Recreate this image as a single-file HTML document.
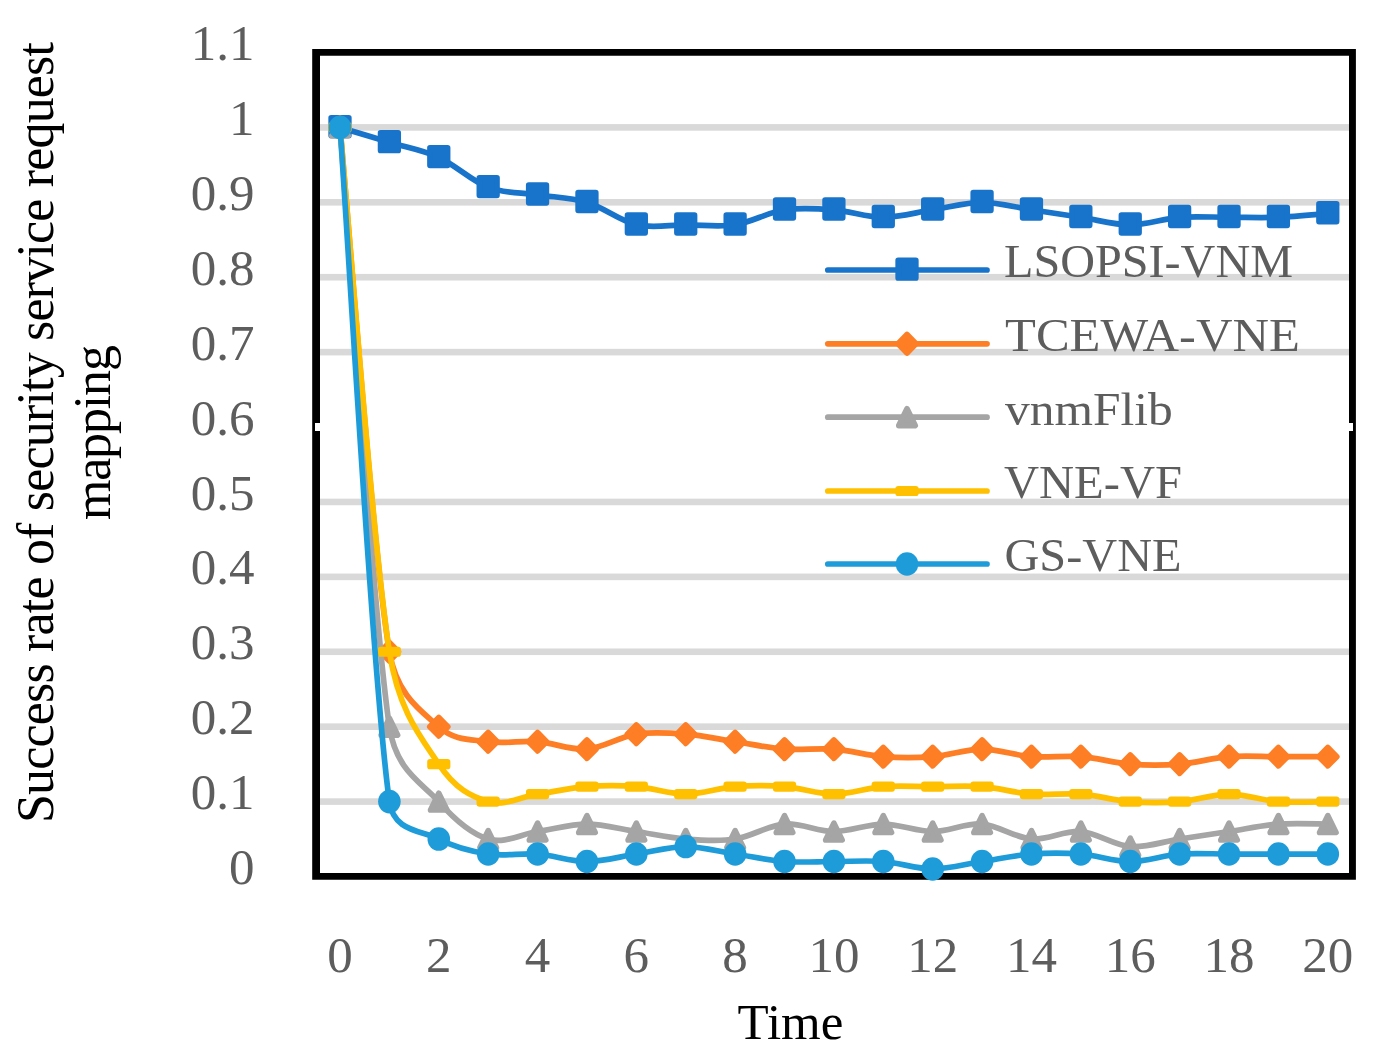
<!DOCTYPE html><html><head><meta charset="utf-8"><style>html,body{margin:0;padding:0;background:#fff;}svg{display:block;}text{font-family:"Liberation Serif","Times New Roman",serif;}</style></head><body>
<svg width="1373" height="1062" viewBox="0 0 1373 1062">
<rect width="1373" height="1062" fill="#fff"/>
<rect x="320" y="798.29" width="1029" height="6.6" fill="#D9D9D9"/>
<rect x="320" y="723.38" width="1029" height="6.6" fill="#D9D9D9"/>
<rect x="320" y="648.47" width="1029" height="6.6" fill="#D9D9D9"/>
<rect x="320" y="573.56" width="1029" height="6.6" fill="#D9D9D9"/>
<rect x="320" y="498.65" width="1029" height="6.6" fill="#D9D9D9"/>
<rect x="320" y="348.83" width="1029" height="6.6" fill="#D9D9D9"/>
<rect x="320" y="273.92" width="1029" height="6.6" fill="#D9D9D9"/>
<rect x="320" y="199.01" width="1029" height="6.6" fill="#D9D9D9"/>
<rect x="320" y="124.10" width="1029" height="6.6" fill="#D9D9D9"/>
<path d="M312.2,49.1 H1355.9 V879.8 H312.2 Z M320,55.8 V873.1 H1349 V55.8 Z" fill="#000" fill-rule="evenodd"/>
<rect x="315" y="423" width="1038" height="8" fill="#fff"/>
<text x="254.5" y="884.10" font-size="51" fill="#5D5D5D" text-anchor="end">0</text>
<text x="254.5" y="809.19" font-size="51" fill="#5D5D5D" text-anchor="end">0.1</text>
<text x="254.5" y="734.28" font-size="51" fill="#5D5D5D" text-anchor="end">0.2</text>
<text x="254.5" y="659.37" font-size="51" fill="#5D5D5D" text-anchor="end">0.3</text>
<text x="254.5" y="584.46" font-size="51" fill="#5D5D5D" text-anchor="end">0.4</text>
<text x="254.5" y="509.55" font-size="51" fill="#5D5D5D" text-anchor="end">0.5</text>
<text x="254.5" y="434.64" font-size="51" fill="#5D5D5D" text-anchor="end">0.6</text>
<text x="254.5" y="359.73" font-size="51" fill="#5D5D5D" text-anchor="end">0.7</text>
<text x="254.5" y="284.82" font-size="51" fill="#5D5D5D" text-anchor="end">0.8</text>
<text x="254.5" y="209.91" font-size="51" fill="#5D5D5D" text-anchor="end">0.9</text>
<text x="254.5" y="135.00" font-size="51" fill="#5D5D5D" text-anchor="end">1</text>
<text x="254.5" y="60.09" font-size="51" fill="#5D5D5D" text-anchor="end">1.1</text>
<text x="340.00" y="971.6" font-size="51" fill="#5D5D5D" text-anchor="middle">0</text>
<text x="438.78" y="971.6" font-size="51" fill="#5D5D5D" text-anchor="middle">2</text>
<text x="537.56" y="971.6" font-size="51" fill="#5D5D5D" text-anchor="middle">4</text>
<text x="636.34" y="971.6" font-size="51" fill="#5D5D5D" text-anchor="middle">6</text>
<text x="735.12" y="971.6" font-size="51" fill="#5D5D5D" text-anchor="middle">8</text>
<text x="833.90" y="971.6" font-size="51" fill="#5D5D5D" text-anchor="middle">10</text>
<text x="932.68" y="971.6" font-size="51" fill="#5D5D5D" text-anchor="middle">12</text>
<text x="1031.46" y="971.6" font-size="51" fill="#5D5D5D" text-anchor="middle">14</text>
<text x="1130.24" y="971.6" font-size="51" fill="#5D5D5D" text-anchor="middle">16</text>
<text x="1229.02" y="971.6" font-size="51" fill="#5D5D5D" text-anchor="middle">18</text>
<text x="1327.80" y="971.6" font-size="51" fill="#5D5D5D" text-anchor="middle">20</text>
<text x="790.5" y="1039.4" font-size="51" fill="#000" text-anchor="middle">Time</text>
<g transform="translate(53.4,432.50) rotate(-90)"><text x="0" y="0" font-size="52" fill="#000" text-anchor="middle" textLength="781.0" lengthAdjust="spacing">Success rate of security service request</text></g>
<g transform="translate(110.4,432.60) rotate(-90)"><text x="0" y="0" font-size="52" fill="#000" text-anchor="middle" textLength="175.0" lengthAdjust="spacing">mapping</text></g>
<path d="M340.00,127.40 C348.23,129.90 372.93,137.39 389.39,142.38 C405.85,147.38 422.32,149.87 438.78,157.36 C455.24,164.86 471.71,181.09 488.17,187.33 C504.63,193.57 521.10,192.32 537.56,194.82 C554.02,197.32 570.49,197.32 586.95,202.31 C603.41,207.30 619.88,221.04 636.34,224.78 C652.80,228.53 669.27,224.78 685.73,224.78 C702.19,224.78 718.66,227.28 735.12,224.78 C751.58,222.29 768.05,212.30 784.51,209.80 C800.97,207.30 817.44,208.55 833.90,209.80 C850.36,211.05 866.83,217.29 883.29,217.29 C899.75,217.29 916.22,212.30 932.68,209.80 C949.14,207.30 965.61,202.31 982.07,202.31 C998.53,202.31 1015.00,207.30 1031.46,209.80 C1047.92,212.30 1064.39,214.80 1080.85,217.29 C1097.31,219.79 1113.78,224.78 1130.24,224.78 C1146.70,224.78 1163.17,218.54 1179.63,217.29 C1196.09,216.04 1212.56,217.29 1229.02,217.29 C1245.48,217.29 1261.95,217.92 1278.41,217.29 C1294.87,216.67 1319.57,214.17 1327.80,213.55" fill="none" stroke="#1874CA" stroke-width="5.7" stroke-linecap="round" stroke-linejoin="round"/>
<rect x="331.20" y="117.80" width="17.6" height="17.6" fill="#1874CA" stroke="#1874CA" stroke-width="5.7" stroke-linejoin="round"/>
<rect x="380.59" y="132.78" width="17.6" height="17.6" fill="#1874CA" stroke="#1874CA" stroke-width="5.7" stroke-linejoin="round"/>
<rect x="429.98" y="147.76" width="17.6" height="17.6" fill="#1874CA" stroke="#1874CA" stroke-width="5.7" stroke-linejoin="round"/>
<rect x="479.37" y="177.73" width="17.6" height="17.6" fill="#1874CA" stroke="#1874CA" stroke-width="5.7" stroke-linejoin="round"/>
<rect x="528.76" y="185.22" width="17.6" height="17.6" fill="#1874CA" stroke="#1874CA" stroke-width="5.7" stroke-linejoin="round"/>
<rect x="578.15" y="192.71" width="17.6" height="17.6" fill="#1874CA" stroke="#1874CA" stroke-width="5.7" stroke-linejoin="round"/>
<rect x="627.54" y="215.18" width="17.6" height="17.6" fill="#1874CA" stroke="#1874CA" stroke-width="5.7" stroke-linejoin="round"/>
<rect x="676.93" y="215.18" width="17.6" height="17.6" fill="#1874CA" stroke="#1874CA" stroke-width="5.7" stroke-linejoin="round"/>
<rect x="726.32" y="215.18" width="17.6" height="17.6" fill="#1874CA" stroke="#1874CA" stroke-width="5.7" stroke-linejoin="round"/>
<rect x="775.71" y="200.20" width="17.6" height="17.6" fill="#1874CA" stroke="#1874CA" stroke-width="5.7" stroke-linejoin="round"/>
<rect x="825.10" y="200.20" width="17.6" height="17.6" fill="#1874CA" stroke="#1874CA" stroke-width="5.7" stroke-linejoin="round"/>
<rect x="874.49" y="207.69" width="17.6" height="17.6" fill="#1874CA" stroke="#1874CA" stroke-width="5.7" stroke-linejoin="round"/>
<rect x="923.88" y="200.20" width="17.6" height="17.6" fill="#1874CA" stroke="#1874CA" stroke-width="5.7" stroke-linejoin="round"/>
<rect x="973.27" y="192.71" width="17.6" height="17.6" fill="#1874CA" stroke="#1874CA" stroke-width="5.7" stroke-linejoin="round"/>
<rect x="1022.66" y="200.20" width="17.6" height="17.6" fill="#1874CA" stroke="#1874CA" stroke-width="5.7" stroke-linejoin="round"/>
<rect x="1072.05" y="207.69" width="17.6" height="17.6" fill="#1874CA" stroke="#1874CA" stroke-width="5.7" stroke-linejoin="round"/>
<rect x="1121.44" y="215.18" width="17.6" height="17.6" fill="#1874CA" stroke="#1874CA" stroke-width="5.7" stroke-linejoin="round"/>
<rect x="1170.83" y="207.69" width="17.6" height="17.6" fill="#1874CA" stroke="#1874CA" stroke-width="5.7" stroke-linejoin="round"/>
<rect x="1220.22" y="207.69" width="17.6" height="17.6" fill="#1874CA" stroke="#1874CA" stroke-width="5.7" stroke-linejoin="round"/>
<rect x="1269.61" y="207.69" width="17.6" height="17.6" fill="#1874CA" stroke="#1874CA" stroke-width="5.7" stroke-linejoin="round"/>
<rect x="1319.00" y="203.95" width="17.6" height="17.6" fill="#1874CA" stroke="#1874CA" stroke-width="5.7" stroke-linejoin="round"/>
<path d="M340.00,127.40 C348.23,214.79 372.93,551.89 389.39,651.77 C396.69,696.04 422.32,711.70 438.78,726.68 C455.24,741.66 471.71,739.16 488.17,741.66 C504.63,744.16 521.10,740.41 537.56,741.66 C554.02,742.91 570.49,750.40 586.95,749.15 C603.41,747.90 619.88,736.67 636.34,734.17 C652.80,731.67 669.27,732.92 685.73,734.17 C702.19,735.42 718.66,739.17 735.12,741.66 C751.58,744.16 768.05,747.90 784.51,749.15 C800.97,750.40 817.44,747.90 833.90,749.15 C850.36,750.40 866.83,755.40 883.29,756.64 C899.75,757.89 916.22,757.89 932.68,756.64 C949.14,755.40 965.61,749.15 982.07,749.15 C998.53,749.15 1015.00,755.40 1031.46,756.64 C1047.92,757.89 1064.39,755.40 1080.85,756.64 C1097.31,757.89 1113.78,762.89 1130.24,764.13 C1146.70,765.38 1163.17,765.38 1179.63,764.13 C1196.09,762.89 1212.56,757.89 1229.02,756.64 C1245.48,755.40 1261.95,756.64 1278.41,756.64 C1294.87,756.64 1319.57,756.64 1327.80,756.64" fill="none" stroke="#FE7E25" stroke-width="5.7" stroke-linecap="round" stroke-linejoin="round"/>
<path d="M340.00,118.20 L349.00,127.40 L340.00,136.60 L331.00,127.40 Z" fill="#FE7E25" stroke="#FE7E25" stroke-width="5.7" stroke-linejoin="round"/>
<path d="M389.39,642.57 L398.39,651.77 L389.39,660.97 L380.39,651.77 Z" fill="#FE7E25" stroke="#FE7E25" stroke-width="5.7" stroke-linejoin="round"/>
<path d="M438.78,717.48 L447.78,726.68 L438.78,735.88 L429.78,726.68 Z" fill="#FE7E25" stroke="#FE7E25" stroke-width="5.7" stroke-linejoin="round"/>
<path d="M488.17,732.46 L497.17,741.66 L488.17,750.86 L479.17,741.66 Z" fill="#FE7E25" stroke="#FE7E25" stroke-width="5.7" stroke-linejoin="round"/>
<path d="M537.56,732.46 L546.56,741.66 L537.56,750.86 L528.56,741.66 Z" fill="#FE7E25" stroke="#FE7E25" stroke-width="5.7" stroke-linejoin="round"/>
<path d="M586.95,739.95 L595.95,749.15 L586.95,758.35 L577.95,749.15 Z" fill="#FE7E25" stroke="#FE7E25" stroke-width="5.7" stroke-linejoin="round"/>
<path d="M636.34,724.97 L645.34,734.17 L636.34,743.37 L627.34,734.17 Z" fill="#FE7E25" stroke="#FE7E25" stroke-width="5.7" stroke-linejoin="round"/>
<path d="M685.73,724.97 L694.73,734.17 L685.73,743.37 L676.73,734.17 Z" fill="#FE7E25" stroke="#FE7E25" stroke-width="5.7" stroke-linejoin="round"/>
<path d="M735.12,732.46 L744.12,741.66 L735.12,750.86 L726.12,741.66 Z" fill="#FE7E25" stroke="#FE7E25" stroke-width="5.7" stroke-linejoin="round"/>
<path d="M784.51,739.95 L793.51,749.15 L784.51,758.35 L775.51,749.15 Z" fill="#FE7E25" stroke="#FE7E25" stroke-width="5.7" stroke-linejoin="round"/>
<path d="M833.90,739.95 L842.90,749.15 L833.90,758.35 L824.90,749.15 Z" fill="#FE7E25" stroke="#FE7E25" stroke-width="5.7" stroke-linejoin="round"/>
<path d="M883.29,747.44 L892.29,756.64 L883.29,765.84 L874.29,756.64 Z" fill="#FE7E25" stroke="#FE7E25" stroke-width="5.7" stroke-linejoin="round"/>
<path d="M932.68,747.44 L941.68,756.64 L932.68,765.84 L923.68,756.64 Z" fill="#FE7E25" stroke="#FE7E25" stroke-width="5.7" stroke-linejoin="round"/>
<path d="M982.07,739.95 L991.07,749.15 L982.07,758.35 L973.07,749.15 Z" fill="#FE7E25" stroke="#FE7E25" stroke-width="5.7" stroke-linejoin="round"/>
<path d="M1031.46,747.44 L1040.46,756.64 L1031.46,765.84 L1022.46,756.64 Z" fill="#FE7E25" stroke="#FE7E25" stroke-width="5.7" stroke-linejoin="round"/>
<path d="M1080.85,747.44 L1089.85,756.64 L1080.85,765.84 L1071.85,756.64 Z" fill="#FE7E25" stroke="#FE7E25" stroke-width="5.7" stroke-linejoin="round"/>
<path d="M1130.24,754.93 L1139.24,764.13 L1130.24,773.34 L1121.24,764.13 Z" fill="#FE7E25" stroke="#FE7E25" stroke-width="5.7" stroke-linejoin="round"/>
<path d="M1179.63,754.93 L1188.63,764.13 L1179.63,773.34 L1170.63,764.13 Z" fill="#FE7E25" stroke="#FE7E25" stroke-width="5.7" stroke-linejoin="round"/>
<path d="M1229.02,747.44 L1238.02,756.64 L1229.02,765.84 L1220.02,756.64 Z" fill="#FE7E25" stroke="#FE7E25" stroke-width="5.7" stroke-linejoin="round"/>
<path d="M1278.41,747.44 L1287.41,756.64 L1278.41,765.84 L1269.41,756.64 Z" fill="#FE7E25" stroke="#FE7E25" stroke-width="5.7" stroke-linejoin="round"/>
<path d="M1327.80,747.44 L1336.80,756.64 L1327.80,765.84 L1318.80,756.64 Z" fill="#FE7E25" stroke="#FE7E25" stroke-width="5.7" stroke-linejoin="round"/>
<path d="M340.00,127.40 C348.23,227.28 372.93,614.31 389.39,726.68 C395.89,771.07 422.32,782.86 438.78,801.59 C455.24,820.32 471.71,834.05 488.17,839.04 C504.63,844.04 521.10,834.05 537.56,831.55 C554.02,829.06 570.49,824.06 586.95,824.06 C603.41,824.06 619.88,829.06 636.34,831.55 C652.80,834.05 669.27,837.80 685.73,839.04 C702.19,840.29 718.66,841.54 735.12,839.04 C751.58,836.55 768.05,825.31 784.51,824.06 C800.97,822.81 817.44,831.55 833.90,831.55 C850.36,831.55 866.83,824.06 883.29,824.06 C899.75,824.06 916.22,831.55 932.68,831.55 C949.14,831.55 965.61,822.81 982.07,824.06 C998.53,825.31 1015.00,837.80 1031.46,839.04 C1047.92,840.29 1064.39,830.31 1080.85,831.55 C1097.31,832.80 1113.78,845.29 1130.24,846.54 C1146.70,847.78 1163.17,841.54 1179.63,839.04 C1196.09,836.55 1212.56,834.05 1229.02,831.55 C1245.48,829.06 1261.95,825.31 1278.41,824.06 C1294.87,822.81 1319.57,824.06 1327.80,824.06" fill="none" stroke="#A5A5A5" stroke-width="5.7" stroke-linecap="round" stroke-linejoin="round"/>
<path d="M340.00,119.00 L348.20,135.80 L331.80,135.80 Z" fill="#A5A5A5" stroke="#A5A5A5" stroke-width="5.7" stroke-linejoin="round"/>
<path d="M389.39,718.28 L397.59,735.08 L381.19,735.08 Z" fill="#A5A5A5" stroke="#A5A5A5" stroke-width="5.7" stroke-linejoin="round"/>
<path d="M438.78,793.19 L446.98,809.99 L430.58,809.99 Z" fill="#A5A5A5" stroke="#A5A5A5" stroke-width="5.7" stroke-linejoin="round"/>
<path d="M488.17,830.64 L496.37,847.44 L479.97,847.44 Z" fill="#A5A5A5" stroke="#A5A5A5" stroke-width="5.7" stroke-linejoin="round"/>
<path d="M537.56,823.15 L545.76,839.95 L529.36,839.95 Z" fill="#A5A5A5" stroke="#A5A5A5" stroke-width="5.7" stroke-linejoin="round"/>
<path d="M586.95,815.66 L595.15,832.46 L578.75,832.46 Z" fill="#A5A5A5" stroke="#A5A5A5" stroke-width="5.7" stroke-linejoin="round"/>
<path d="M636.34,823.15 L644.54,839.95 L628.14,839.95 Z" fill="#A5A5A5" stroke="#A5A5A5" stroke-width="5.7" stroke-linejoin="round"/>
<path d="M685.73,830.64 L693.93,847.44 L677.53,847.44 Z" fill="#A5A5A5" stroke="#A5A5A5" stroke-width="5.7" stroke-linejoin="round"/>
<path d="M735.12,830.64 L743.32,847.44 L726.92,847.44 Z" fill="#A5A5A5" stroke="#A5A5A5" stroke-width="5.7" stroke-linejoin="round"/>
<path d="M784.51,815.66 L792.71,832.46 L776.31,832.46 Z" fill="#A5A5A5" stroke="#A5A5A5" stroke-width="5.7" stroke-linejoin="round"/>
<path d="M833.90,823.15 L842.10,839.95 L825.70,839.95 Z" fill="#A5A5A5" stroke="#A5A5A5" stroke-width="5.7" stroke-linejoin="round"/>
<path d="M883.29,815.66 L891.49,832.46 L875.09,832.46 Z" fill="#A5A5A5" stroke="#A5A5A5" stroke-width="5.7" stroke-linejoin="round"/>
<path d="M932.68,823.15 L940.88,839.95 L924.48,839.95 Z" fill="#A5A5A5" stroke="#A5A5A5" stroke-width="5.7" stroke-linejoin="round"/>
<path d="M982.07,815.66 L990.27,832.46 L973.87,832.46 Z" fill="#A5A5A5" stroke="#A5A5A5" stroke-width="5.7" stroke-linejoin="round"/>
<path d="M1031.46,830.64 L1039.66,847.44 L1023.26,847.44 Z" fill="#A5A5A5" stroke="#A5A5A5" stroke-width="5.7" stroke-linejoin="round"/>
<path d="M1080.85,823.15 L1089.05,839.95 L1072.65,839.95 Z" fill="#A5A5A5" stroke="#A5A5A5" stroke-width="5.7" stroke-linejoin="round"/>
<path d="M1130.24,838.14 L1138.44,854.94 L1122.04,854.94 Z" fill="#A5A5A5" stroke="#A5A5A5" stroke-width="5.7" stroke-linejoin="round"/>
<path d="M1179.63,830.64 L1187.83,847.44 L1171.43,847.44 Z" fill="#A5A5A5" stroke="#A5A5A5" stroke-width="5.7" stroke-linejoin="round"/>
<path d="M1229.02,823.15 L1237.22,839.95 L1220.82,839.95 Z" fill="#A5A5A5" stroke="#A5A5A5" stroke-width="5.7" stroke-linejoin="round"/>
<path d="M1278.41,815.66 L1286.61,832.46 L1270.21,832.46 Z" fill="#A5A5A5" stroke="#A5A5A5" stroke-width="5.7" stroke-linejoin="round"/>
<path d="M1327.80,815.66 L1336.00,832.46 L1319.60,832.46 Z" fill="#A5A5A5" stroke="#A5A5A5" stroke-width="5.7" stroke-linejoin="round"/>
<path d="M340.00,127.40 C348.23,214.79 372.93,545.65 389.39,651.77 C398.80,712.41 422.32,739.16 438.78,764.13 C455.24,789.11 471.71,796.60 488.17,801.59 C504.63,806.58 521.10,796.60 537.56,794.10 C554.02,791.60 570.49,787.86 586.95,786.61 C603.41,785.36 619.88,785.36 636.34,786.61 C652.80,787.86 669.27,794.10 685.73,794.10 C702.19,794.10 718.66,787.86 735.12,786.61 C751.58,785.36 768.05,785.36 784.51,786.61 C800.97,787.86 817.44,794.10 833.90,794.10 C850.36,794.10 866.83,787.86 883.29,786.61 C899.75,785.36 916.22,786.61 932.68,786.61 C949.14,786.61 965.61,785.36 982.07,786.61 C998.53,787.86 1015.00,792.85 1031.46,794.10 C1047.92,795.35 1064.39,792.85 1080.85,794.10 C1097.31,795.35 1113.78,800.34 1130.24,801.59 C1146.70,802.84 1163.17,802.84 1179.63,801.59 C1196.09,800.34 1212.56,794.10 1229.02,794.10 C1245.48,794.10 1261.95,800.34 1278.41,801.59 C1294.87,802.84 1319.57,801.59 1327.80,801.59" fill="none" stroke="#FFC000" stroke-width="5.7" stroke-linecap="round" stroke-linejoin="round"/>
<rect x="331.25" y="125.15" width="17.5" height="4.5" fill="#FFC000" stroke="#FFC000" stroke-width="5.7" stroke-linejoin="round"/>
<rect x="380.64" y="649.52" width="17.5" height="4.5" fill="#FFC000" stroke="#FFC000" stroke-width="5.7" stroke-linejoin="round"/>
<rect x="430.03" y="761.88" width="17.5" height="4.5" fill="#FFC000" stroke="#FFC000" stroke-width="5.7" stroke-linejoin="round"/>
<rect x="479.42" y="799.34" width="17.5" height="4.5" fill="#FFC000" stroke="#FFC000" stroke-width="5.7" stroke-linejoin="round"/>
<rect x="528.81" y="791.85" width="17.5" height="4.5" fill="#FFC000" stroke="#FFC000" stroke-width="5.7" stroke-linejoin="round"/>
<rect x="578.20" y="784.36" width="17.5" height="4.5" fill="#FFC000" stroke="#FFC000" stroke-width="5.7" stroke-linejoin="round"/>
<rect x="627.59" y="784.36" width="17.5" height="4.5" fill="#FFC000" stroke="#FFC000" stroke-width="5.7" stroke-linejoin="round"/>
<rect x="676.98" y="791.85" width="17.5" height="4.5" fill="#FFC000" stroke="#FFC000" stroke-width="5.7" stroke-linejoin="round"/>
<rect x="726.37" y="784.36" width="17.5" height="4.5" fill="#FFC000" stroke="#FFC000" stroke-width="5.7" stroke-linejoin="round"/>
<rect x="775.76" y="784.36" width="17.5" height="4.5" fill="#FFC000" stroke="#FFC000" stroke-width="5.7" stroke-linejoin="round"/>
<rect x="825.15" y="791.85" width="17.5" height="4.5" fill="#FFC000" stroke="#FFC000" stroke-width="5.7" stroke-linejoin="round"/>
<rect x="874.54" y="784.36" width="17.5" height="4.5" fill="#FFC000" stroke="#FFC000" stroke-width="5.7" stroke-linejoin="round"/>
<rect x="923.93" y="784.36" width="17.5" height="4.5" fill="#FFC000" stroke="#FFC000" stroke-width="5.7" stroke-linejoin="round"/>
<rect x="973.32" y="784.36" width="17.5" height="4.5" fill="#FFC000" stroke="#FFC000" stroke-width="5.7" stroke-linejoin="round"/>
<rect x="1022.71" y="791.85" width="17.5" height="4.5" fill="#FFC000" stroke="#FFC000" stroke-width="5.7" stroke-linejoin="round"/>
<rect x="1072.10" y="791.85" width="17.5" height="4.5" fill="#FFC000" stroke="#FFC000" stroke-width="5.7" stroke-linejoin="round"/>
<rect x="1121.49" y="799.34" width="17.5" height="4.5" fill="#FFC000" stroke="#FFC000" stroke-width="5.7" stroke-linejoin="round"/>
<rect x="1170.88" y="799.34" width="17.5" height="4.5" fill="#FFC000" stroke="#FFC000" stroke-width="5.7" stroke-linejoin="round"/>
<rect x="1220.27" y="791.85" width="17.5" height="4.5" fill="#FFC000" stroke="#FFC000" stroke-width="5.7" stroke-linejoin="round"/>
<rect x="1269.66" y="799.34" width="17.5" height="4.5" fill="#FFC000" stroke="#FFC000" stroke-width="5.7" stroke-linejoin="round"/>
<rect x="1319.05" y="799.34" width="17.5" height="4.5" fill="#FFC000" stroke="#FFC000" stroke-width="5.7" stroke-linejoin="round"/>
<path d="M340.00,127.40 C348.23,239.76 372.93,682.98 389.39,801.59 C393.65,832.29 422.32,830.31 438.78,839.04 C455.24,847.78 471.71,851.53 488.17,854.03 C504.63,856.52 521.10,852.78 537.56,854.03 C554.02,855.28 570.49,861.52 586.95,861.52 C603.41,861.52 619.88,856.52 636.34,854.03 C652.80,851.53 669.27,846.54 685.73,846.54 C702.19,846.54 718.66,851.53 735.12,854.03 C751.58,856.52 768.05,860.27 784.51,861.52 C800.97,862.77 817.44,861.52 833.90,861.52 C850.36,861.52 866.83,860.27 883.29,861.52 C899.75,862.77 916.22,869.01 932.68,869.01 C949.14,869.01 965.61,864.01 982.07,861.52 C998.53,859.02 1015.00,855.28 1031.46,854.03 C1047.92,852.78 1064.39,852.78 1080.85,854.03 C1097.31,855.28 1113.78,861.52 1130.24,861.52 C1146.70,861.52 1163.17,855.28 1179.63,854.03 C1196.09,852.78 1212.56,854.03 1229.02,854.03 C1245.48,854.03 1261.95,854.03 1278.41,854.03 C1294.87,854.03 1319.57,854.03 1327.80,854.03" fill="none" stroke="#1E9CDA" stroke-width="5.7" stroke-linecap="round" stroke-linejoin="round"/>
<ellipse cx="340.00" cy="127.40" rx="11.30" ry="11.80" fill="#1E9CDA"/>
<ellipse cx="389.39" cy="801.59" rx="11.30" ry="11.80" fill="#1E9CDA"/>
<ellipse cx="438.78" cy="839.04" rx="11.30" ry="11.80" fill="#1E9CDA"/>
<ellipse cx="488.17" cy="854.03" rx="11.30" ry="11.80" fill="#1E9CDA"/>
<ellipse cx="537.56" cy="854.03" rx="11.30" ry="11.80" fill="#1E9CDA"/>
<ellipse cx="586.95" cy="861.52" rx="11.30" ry="11.80" fill="#1E9CDA"/>
<ellipse cx="636.34" cy="854.03" rx="11.30" ry="11.80" fill="#1E9CDA"/>
<ellipse cx="685.73" cy="846.54" rx="11.30" ry="11.80" fill="#1E9CDA"/>
<ellipse cx="735.12" cy="854.03" rx="11.30" ry="11.80" fill="#1E9CDA"/>
<ellipse cx="784.51" cy="861.52" rx="11.30" ry="11.80" fill="#1E9CDA"/>
<ellipse cx="833.90" cy="861.52" rx="11.30" ry="11.80" fill="#1E9CDA"/>
<ellipse cx="883.29" cy="861.52" rx="11.30" ry="11.80" fill="#1E9CDA"/>
<ellipse cx="932.68" cy="869.01" rx="11.30" ry="11.80" fill="#1E9CDA"/>
<ellipse cx="982.07" cy="861.52" rx="11.30" ry="11.80" fill="#1E9CDA"/>
<ellipse cx="1031.46" cy="854.03" rx="11.30" ry="11.80" fill="#1E9CDA"/>
<ellipse cx="1080.85" cy="854.03" rx="11.30" ry="11.80" fill="#1E9CDA"/>
<ellipse cx="1130.24" cy="861.52" rx="11.30" ry="11.80" fill="#1E9CDA"/>
<ellipse cx="1179.63" cy="854.03" rx="11.30" ry="11.80" fill="#1E9CDA"/>
<ellipse cx="1229.02" cy="854.03" rx="11.30" ry="11.80" fill="#1E9CDA"/>
<ellipse cx="1278.41" cy="854.03" rx="11.30" ry="11.80" fill="#1E9CDA"/>
<ellipse cx="1327.80" cy="854.03" rx="11.30" ry="11.80" fill="#1E9CDA"/>
<line x1="827.8" y1="270.00" x2="987" y2="270.00" stroke="#1874CA" stroke-width="5.7" stroke-linecap="round"/>
<rect x="898.20" y="260.40" width="17.6" height="17.6" fill="#1874CA" stroke="#1874CA" stroke-width="5.7" stroke-linejoin="round"/>
<text x="1004.00" y="277.40" font-size="47" fill="#5D5D5D" textLength="289.0" lengthAdjust="spacingAndGlyphs">LSOPSI-VNM</text>
<line x1="827.8" y1="343.80" x2="987" y2="343.80" stroke="#FE7E25" stroke-width="5.7" stroke-linecap="round"/>
<path d="M907.00,334.60 L916.00,343.80 L907.00,353.00 L898.00,343.80 Z" fill="#FE7E25" stroke="#FE7E25" stroke-width="5.7" stroke-linejoin="round"/>
<text x="1005.00" y="351.20" font-size="47" fill="#5D5D5D" textLength="294.8" lengthAdjust="spacingAndGlyphs">TCEWA-VNE</text>
<line x1="827.8" y1="417.20" x2="987" y2="417.20" stroke="#A5A5A5" stroke-width="5.7" stroke-linecap="round"/>
<path d="M907.00,408.80 L915.20,425.60 L898.80,425.60 Z" fill="#A5A5A5" stroke="#A5A5A5" stroke-width="5.7" stroke-linejoin="round"/>
<text x="1005.00" y="424.60" font-size="47" fill="#5D5D5D" textLength="167.7" lengthAdjust="spacingAndGlyphs">vnmFlib</text>
<line x1="827.8" y1="491.00" x2="987" y2="491.00" stroke="#FFC000" stroke-width="5.7" stroke-linecap="round"/>
<rect x="898.25" y="488.75" width="17.5" height="4.5" fill="#FFC000" stroke="#FFC000" stroke-width="5.7" stroke-linejoin="round"/>
<text x="1004.00" y="498.40" font-size="47" fill="#5D5D5D" textLength="178.0" lengthAdjust="spacingAndGlyphs">VNE-VF</text>
<line x1="827.8" y1="564.00" x2="987" y2="564.00" stroke="#1E9CDA" stroke-width="5.7" stroke-linecap="round"/>
<ellipse cx="907.00" cy="564.00" rx="11.30" ry="11.80" fill="#1E9CDA"/>
<text x="1004.50" y="571.40" font-size="47" fill="#5D5D5D" textLength="177.0" lengthAdjust="spacingAndGlyphs">GS-VNE</text>
</svg></body></html>
